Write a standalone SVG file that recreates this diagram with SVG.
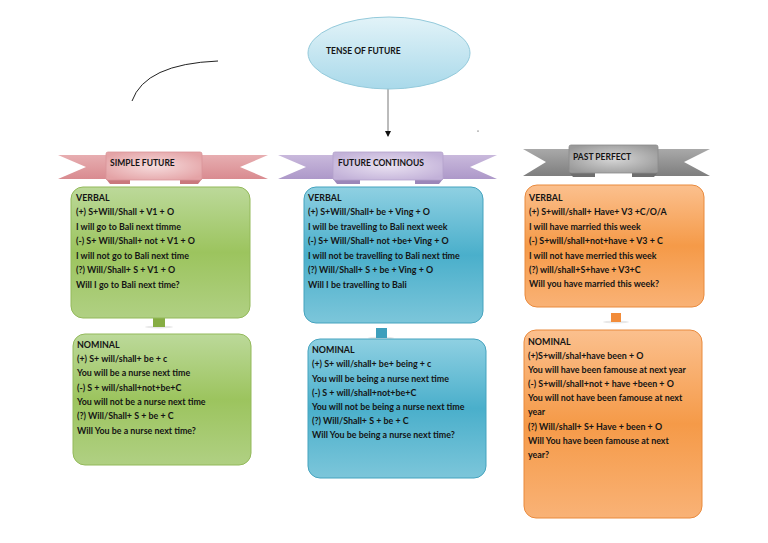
<svg xmlns="http://www.w3.org/2000/svg" width="768" height="543" viewBox="0 0 768 543">
<defs>
<linearGradient id="gGreen" x1="0" y1="0" x2="0" y2="1">
<stop offset="0" stop-color="#bcd99a"/><stop offset="0.5" stop-color="#9cc45e"/><stop offset="1" stop-color="#b0d083"/>
</linearGradient>
<linearGradient id="gBlue" x1="0" y1="0" x2="0" y2="1">
<stop offset="0" stop-color="#8fd0e2"/><stop offset="0.5" stop-color="#4aafcb"/><stop offset="1" stop-color="#7cc6da"/>
</linearGradient>
<linearGradient id="gOrange" x1="0" y1="0" x2="0" y2="1">
<stop offset="0" stop-color="#fbc08e"/><stop offset="0.5" stop-color="#f59a48"/><stop offset="1" stop-color="#f9b276"/>
</linearGradient>
<linearGradient id="gEll" x1="0" y1="0" x2="0" y2="1">
<stop offset="0" stop-color="#e2f3f8"/><stop offset="1" stop-color="#a9d9ea"/>
</linearGradient>
<radialGradient id="gPink" cx="0.5" cy="0.5" r="0.6">
<stop offset="0" stop-color="#f6dcdd"/><stop offset="1" stop-color="#e4a3a6"/>
</radialGradient>
<linearGradient id="gPinkT" x1="0" y1="0" x2="0" y2="1">
<stop offset="0" stop-color="#e7aeb1"/><stop offset="1" stop-color="#d98b90"/>
</linearGradient>
<radialGradient id="gLav" cx="0.5" cy="0.5" r="0.6">
<stop offset="0" stop-color="#e9e1f1"/><stop offset="1" stop-color="#c2b1d8"/>
</radialGradient>
<linearGradient id="gLavT" x1="0" y1="0" x2="0" y2="1">
<stop offset="0" stop-color="#c9b9dc"/><stop offset="1" stop-color="#ad98c9"/>
</linearGradient>
<radialGradient id="gGray" cx="0.5" cy="0.5" r="0.6">
<stop offset="0" stop-color="#d6d6d6"/><stop offset="1" stop-color="#9a9a9a"/>
</radialGradient>
<linearGradient id="gGrayT" x1="0" y1="0" x2="0" y2="1">
<stop offset="0" stop-color="#a9a9a9"/><stop offset="1" stop-color="#7e7e7e"/>
</linearGradient>
<marker id="arr" markerWidth="6" markerHeight="6" refX="5" refY="3" orient="auto" markerUnits="userSpaceOnUse">
<path d="M0,0 L6,3 L0,6 z" fill="#111"/>
</marker>
</defs>
<style>
text{font-family:Lato,"Open Sans","Liberation Sans",sans-serif;font-size:8.9px;font-weight:bold;fill:#141414}
.t{font-size:8.5px}
.g{fill:url(#gGreen);stroke:#93b95a;stroke-width:1}
.b{fill:url(#gBlue);stroke:#45a3be;stroke-width:1}
.o{fill:url(#gOrange);stroke:#e98a3d;stroke-width:1}
</style>
<rect width="768" height="543" fill="#fff"/>

<g id="connectors">
<path d="M132,101 Q145,64 218,61" fill="none" stroke="#222" stroke-width="1"/>
<line x1="388" y1="88" x2="388" y2="136" stroke="#555" stroke-width="0.8" marker-end="url(#arr)"/>
<rect x="477.5" y="130.5" width="1" height="1.2" fill="#555"/>
<ellipse cx="159" cy="327" rx="14" ry="1.5" fill="#e8e8e8"/>
<rect x="153" y="318" width="12" height="9" fill="#86ad43"/>
<ellipse cx="381" cy="338" rx="13" ry="1.5" fill="#e8e8e8"/>
<rect x="376" y="328" width="11" height="10" fill="#3e9fbc"/>
<ellipse cx="616" cy="322" rx="13" ry="1.5" fill="#e8e8e8"/>
<rect x="611" y="313" width="10" height="9" fill="#f28c3a"/>
</g>

<g id="tense-of-future">
<ellipse cx="389" cy="53" rx="81" ry="36" fill="url(#gEll)" stroke="#94cadb" stroke-width="1"/>
<text class="t" x="326" y="54">TENSE OF FUTURE</text>
</g>

<g id="simple-future-ribbon">
<polygon points="58,155 112,155 112,179 58,179 86,167" fill="url(#gPinkT)"/>
<polygon points="196,155 268,155 240,167 268,179 196,179" fill="url(#gPinkT)"/>
<polygon points="106,179 130,179 130,184 110,184" fill="#c9787d"/>
<polygon points="180,179 202,179 198,184 180,184" fill="#c9787d"/>
<rect x="106" y="152" width="96" height="28" rx="2" fill="url(#gPink)" stroke="#d99599" stroke-width="0.8"/>
<text class="t" x="110" y="166">SIMPLE FUTURE</text>
</g>

<g id="simple-verbal">
<rect class="g" x="71" y="187" width="179" height="131" rx="12"/>
<text x="76" y="201">VERBAL</text>
<text x="76" y="215">(+) S+Will/Shall + V1 + O</text>
<text x="76" y="230">I will go to Bali next timme</text>
<text x="76" y="244">(-) S+ Will/Shall+ not + V1 + O</text>
<text x="76" y="259">I will not go to Bali next time</text>
<text x="76" y="273">(?) Will/Shall+ S + V1 + O</text>
<text x="76" y="288">Will I go to Bali next time?</text>
</g>

<g id="simple-nominal">
<rect class="g" x="73" y="334" width="178" height="131" rx="12"/>
<text x="77" y="348">NOMINAL</text>
<text x="77" y="362">(+) S+ will/shall+ be + c</text>
<text x="77" y="376">You will be a nurse next time</text>
<text x="77" y="391">(-) S + will/shall+not+be+C</text>
<text x="77" y="405">You will not be a nurse next time</text>
<text x="77" y="419">(?) Will/Shall+ S + be + C</text>
<text x="77" y="434">Will You be a nurse next time?</text>
</g>

<g id="future-continous-ribbon">
<polygon points="278,155 339,155 339,179 278,179 306,167" fill="url(#gLavT)"/>
<polygon points="437,155 497,155 470,167 497,179 437,179" fill="url(#gLavT)"/>
<polygon points="333,179 360,179 360,184 337,184" fill="#9b86b8"/>
<polygon points="415,179 443,179 439,184 415,184" fill="#9b86b8"/>
<rect x="333" y="152" width="110" height="28" rx="2" fill="url(#gLav)" stroke="#b4a2cc" stroke-width="0.8"/>
<text class="t" x="338" y="166">FUTURE CONTINOUS</text>
</g>

<g id="continous-verbal">
<rect class="b" x="304" y="187" width="179" height="136" rx="12"/>
<text x="308" y="201">VERBAL</text>
<text x="308" y="215">(+) S+Will/Shall+  be + Ving + O</text>
<text x="308" y="230">I will be travelling to Bali next week</text>
<text x="308" y="244">(-) S+ Will/Shall+ not +be+ Ving + O</text>
<text x="308" y="259">I will not be travelling to Bali next time</text>
<text x="308" y="273">(?) Will/Shall+ S + be + Ving + O</text>
<text x="308" y="288">Will I be travelling to Bali</text>
</g>

<g id="continous-nominal">
<rect class="b" x="308" y="339" width="178" height="139" rx="12"/>
<text x="312" y="353">NOMINAL</text>
<text x="312" y="367">(+) S+ will/shall+ be+ being + c</text>
<text x="312" y="382">You will be being a nurse next time</text>
<text x="312" y="396">(-) S + will/shall+not+be+C</text>
<text x="312" y="410">You will not be being a nurse next time</text>
<text x="312" y="424">(?) Will/Shall+ S + be + C</text>
<text x="312" y="438">Will You be being a nurse next time?</text>
</g>

<g id="past-perfect-ribbon">
<polygon points="523,149 575,149 575,176 523,176 546,162" fill="url(#gGrayT)"/>
<polygon points="652,149 710,149 684,162 710,176 652,176" fill="url(#gGrayT)"/>
<polygon points="569,172 595,172 595,177 573,177" fill="#6e6e6e"/>
<polygon points="632,172 658,172 654,177 632,177" fill="#6e6e6e"/>
<rect x="569" y="145" width="89" height="28" rx="2" fill="url(#gGray)" stroke="#8a8a8a" stroke-width="0.8"/>
<text class="t" x="573" y="160">PAST PERFECT</text>
</g>

<g id="perfect-verbal">
<rect class="o" x="525" y="185" width="179" height="122" rx="12"/>
<text x="529" y="201">VERBAL</text>
<text x="529" y="215">(+) S+will/shall+ Have+ V3 +C/O/A</text>
<text x="529" y="230">I  will have married this week</text>
<text x="529" y="244">(-) S+will/shall+not+have + V3 + C</text>
<text x="529" y="259">I will not have merried this week</text>
<text x="529" y="273">(?) will/shall+S+have + V3+C</text>
<text x="529" y="287">Will you have married this week?</text>
</g>

<g id="perfect-nominal">
<rect class="o" x="524" y="330" width="178" height="188" rx="12"/>
<text x="528" y="345">NOMINAL</text>
<text x="528" y="359">(+)S+will/shal+have been + O</text>
<text x="528" y="373">You will have been famouse at next year</text>
<text x="528" y="387">(-) S+will/shall+not + have +been + O</text>
<text x="528" y="401">You will not have been famouse at next</text>
<text x="528" y="415">year</text>
<text x="528" y="430">(?) Will/shall+ S+ Have + been + O</text>
<text x="528" y="444">Will You have been famouse at next</text>
<text x="528" y="458">year?</text>
</g>
</svg>
